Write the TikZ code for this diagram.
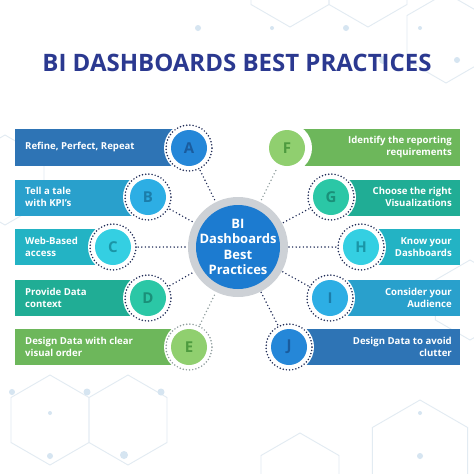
\documentclass[tikz,border=0pt]{standalone}
\usepackage{fontspec}
\setmainfont{Open Sans}
\usetikzlibrary{calc}

\definecolor{titleblue}{HTML}{2B3990}
\definecolor{dotnavy}{HTML}{1E2A55}
\definecolor{dotgray}{HTML}{8E9C9C}
\definecolor{hexline}{HTML}{E2EBF2}
\definecolor{hexdot}{HTML}{D6E5F1}
\definecolor{hubring}{HTML}{CDD1D6}
\definecolor{hubblue}{HTML}{1C7BD0}
% bar / disc / letter colours
\definecolor{barblue}{HTML}{2E74B5}
\definecolor{discblue}{HTML}{2587D8}
\definecolor{letblue}{HTML}{1A5C9E}
\definecolor{barsky}{HTML}{29A0CC}
\definecolor{discsky}{HTML}{2DAEE4}
\definecolor{letsky}{HTML}{1B7DAA}
\definecolor{barcyan}{HTML}{23B3C4}
\definecolor{disccyan}{HTML}{34CFE2}
\definecolor{letcyan}{HTML}{1A95A6}
\definecolor{barteal}{HTML}{20AD95}
\definecolor{discteal}{HTML}{2BC7A6}
\definecolor{letteal}{HTML}{1A9079}
\definecolor{bargreen}{HTML}{6DB75B}
\definecolor{discgreen}{HTML}{90CF6F}
\definecolor{letgreen}{HTML}{4E9B3F}

\newcommand{\hexcell}[3]{%
  \draw[hexstroke] (#1,#2) +(90:#3pt) -- +(150:#3pt) -- +(210:#3pt) -- +(270:#3pt)
    -- +(330:#3pt) -- +(30:#3pt) -- cycle;}

\tikzset{
  hexstroke/.style={draw=hexline, line width=0.9pt},
  halo/.style={circle, fill=white, minimum size=50pt, inner sep=0pt},
  hub/.style={circle, fill=hubring, minimum size=100pt, inner sep=0pt},
  link/.style={dotnavy, line width=1.6pt, line cap=round, dash pattern=on 0pt off 3.6pt},
  greylink/.style={link, draw=dotgray},
  ring/.style={dotnavy, line width=1.7pt, line cap=round, dash pattern=on 0pt off 3.2pt},
  greyring/.style={ring, draw=dotgray},
  letter/.style={font=\fontsize{15}{15}\selectfont\bfseries, inner sep=0pt},
  lefttext/.style={anchor=west, align=left, text=white, inner sep=0pt,
    font=\fontsize{9.6}{12.5}\selectfont\bfseries},
  righttext/.style={anchor=east, align=right, text=white, inner sep=0pt,
    font=\fontsize{9.6}{12.5}\selectfont\bfseries}
}

\begin{document}
\begin{tikzpicture}[x=1pt, y=-1pt]
  \useasboundingbox (0,0) rectangle (474,474);
  \fill[white] (0,0) rectangle (474,474);

  % background hexagons
  \hexcell{290}{-18}{45}
  \hexcell{368}{-18}{45}
  \hexcell{446}{38}{45}
  \hexcell{5}{180}{45}
  \hexcell{50}{420}{45}
  \hexcell{128}{420}{45}
  \hexcell{300}{478}{45}
  \hexcell{420}{455}{55}
  \hexcell{470}{300}{40}
  \fill[hexdot] (198,28) circle (3pt);
  \fill[hexdot] (346,28) circle (3pt);
  \fill[hexdot] (272,28) circle (2pt);
  \fill[hexdot] (420,28) circle (2pt);
  \fill[hexdot] (12,392) circle (3pt);
  \fill[hexdot] (87,392) circle (3.5pt);
  \fill[hexdot] (161,392) circle (3.5pt);
  \fill[hexdot] (50,413) circle (2pt);
  \fill[hexdot] (124,455) circle (4pt);
  \fill[hexdot] (50,456) circle (3pt);
  \fill[hexdot] (420,413) circle (2pt);
  \fill[hexdot] (420,456) circle (3pt);
  \fill[hexdot] (383,60) circle (4pt);
  \fill[hexdot] (457,60) circle (3pt);

  \node[font=\fontsize{24}{24}\selectfont\bfseries, text=titleblue] (title) at (237,63) {BI DASHBOARDS BEST PRACTICES};

  % bars
  \fill[barblue]  (15,129) rectangle (189,166);
  \fill[barsky]   (15,180) rectangle (148,216);
  \fill[barcyan]  (15,229) rectangle (113,265);
  \fill[barteal]  (15,280) rectangle (148,316);
  \fill[bargreen] (15,329) rectangle (189,365);
  \fill[bargreen] (287,129) rectangle (460,166);
  \fill[barteal]  (331,180) rectangle (460,216);
  \fill[barcyan]  (361,229) rectangle (460,265);
  \fill[barsky]   (330,280) rectangle (460,316);
  \fill[barblue]  (289,329) rectangle (460,365);

  \node[lefttext] (ta) at (25,147) {Refine, Perfect, Repeat};
  \node[lefttext] (tb) at (25,197) {Tell a tale\\with KPI’s};
  \node[lefttext] (tc) at (25,247) {Web-Based\\access};
  \node[lefttext] (td) at (25,298) {Provide Data\\context};
  \node[lefttext] (te) at (25,347) {Design Data with clear\\visual order};
  \node[righttext] (tf) at (452,147) {Identify the reporting\\requirements};
  \node[righttext] (tg) at (452,197) {Choose the right\\Visualizations};
  \node[righttext] (th) at (452,247) {Know your\\Dashboards};
  \node[righttext] (ti) at (452,298) {Consider your\\Audience};
  \node[righttext] (tj) at (452,347) {Design Data to avoid\\clutter};

  % halos
  \node[halo] (A) at (189,148) {};
  \node[halo] (B) at (148,197) {};
  \node[halo] (C) at (113,247) {};
  \node[halo] (D) at (148,298) {};
  \node[halo] (E) at (189,347) {};
  \node[halo] (F) at (287,148) {};
  \node[halo] (G) at (331,197) {};
  \node[halo] (H) at (361,247) {};
  \node[halo] (I) at (330,298) {};
  \node[halo] (J) at (289,347) {};

  % hub
  \node[hub] (hub) at (238,247) {};
  \fill[hubblue] (hub) circle (42pt);
  \node[align=center, text=white, font=\fontsize{13}{15.5}\selectfont\bfseries] (hubtext) at (hub) {BI\\Dashboards\\Best\\Practices};

  % links
  \draw[link] (A) -- (hub);
  \draw[link] (B) -- (hub);
  \draw[link] (C) -- (hub);
  \draw[link] (D) -- (hub);
  \draw[greylink] (E) -- (hub);
  \draw[greylink] (F) -- (hub);
  \draw[link] (G) -- (hub);
  \draw[link] (H) -- (hub);
  \draw[link] (I) -- (hub);
  \draw[link] (J) -- (hub);

  % discs and rings
  \fill[discblue] (A) circle (18pt);  \draw[ring] (A) circle (23pt);
  \fill[discsky] (B) circle (18pt);   \draw[ring] (B) circle (23pt);
  \fill[disccyan] (C) circle (18pt);  \draw[ring] (C) circle (23pt);
  \fill[discteal] (D) circle (18pt);  \draw[ring] (D) circle (23pt);
  \fill[discgreen] (E) circle (18pt); \draw[greyring] (E) circle (23pt);
  \fill[discgreen] (F) circle (18pt);
  \fill[discteal] (G) circle (18pt);  \draw[ring] (G) circle (23pt);
  \fill[disccyan] (H) circle (18pt);  \draw[ring] (H) circle (23pt);
  \fill[discsky] (I) circle (18pt);   \draw[ring] (I) circle (23pt);
  \fill[discblue] (J) circle (18pt);  \draw[ring] (J) circle (23pt);

  \node[letter, text=letblue] (la) at (A) {A};
  \node[letter, text=letsky] (lb) at (B) {B};
  \node[letter, text=letcyan] (lc) at (C) {C};
  \node[letter, text=letteal] (ld) at (D) {D};
  \node[letter, text=letgreen] (le) at (E) {E};
  \node[letter, text=letgreen] (lf) at (F) {F};
  \node[letter, text=letteal] (lg) at (G) {G};
  \node[letter, text=letcyan] (lh) at (H) {H};
  \node[letter, text=letsky] (li) at (I) {I};
  \node[letter, text=letblue] (lj) at (J) {J};
\end{tikzpicture}
\end{document}
